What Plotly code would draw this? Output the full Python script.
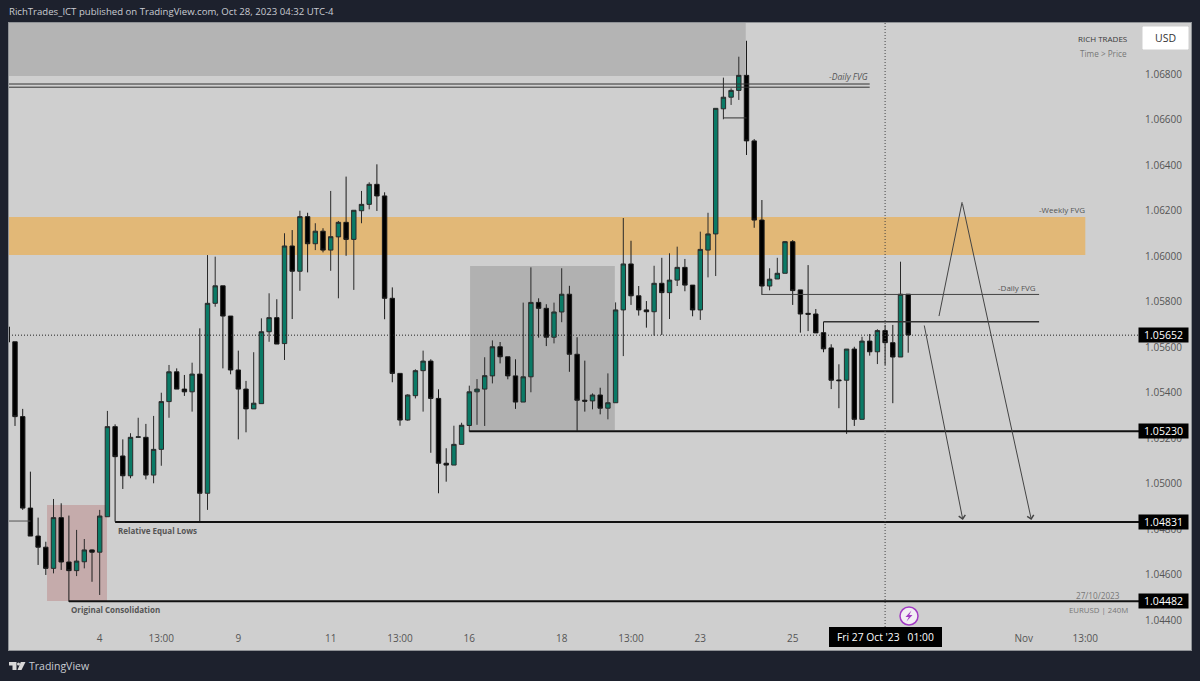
import plotly.graph_objects as go

# EURUSD 240M candles, prices in points (1/100000)
opens = [105688,105623,105294,104892,104769,104720,104627,104850,104655,104617,104656,104708,104698,104854,105250,105121,105034,105203,105203,105037,
105150,105360,105491,105415,105403,105481,104957,105792,105869,105736,105499,105415,105328,105351,105667,105729,105615,106044,105933,106173,
106054,106109,106026,106084,106148,106073,106199,106227,106315,106264,105814,105484,105279,105386,105496,105538,105374,105089,105081,105172,
105255,105403,105415,105473,105601,105557,105473,105358,105469,105796,105770,105643,105754,105832,105568,105366,105363,105389,105331,105355,
105763,105965,105825,105763,105755,105880,105839,105894,105950,105872,105763,106026,106097,106647,106698,106728,106794,106506,106158,105868,
105899,105924,106063,105851,105748,105745,105663,105596,105455,105454,105591,105282,105626,105579,105672,105619,105556,105832]
highs = [105688,105623,105328,105052,104850,104744,104932,104913,104859,104796,104756,104710,104884,105319,105260,105194,105221,105289,105262,105297,
105399,105521,105506,105477,105531,105682,106004,105997,105869,105736,105584,105451,105577,105726,105836,105810,106100,106114,106199,106190,
106144,106122,106286,106154,106349,106201,106286,106324,106403,106280,105862,105484,105392,105502,105584,105546,105414,105155,105254,105267,
105430,105459,105555,105629,105622,105557,105546,105795,105950,105814,105788,105795,105946,105869,105643,105540,105396,105421,105484,105796,
106167,106067,105868,105802,105957,105992,106012,106041,105987,105872,106107,106190,106649,106784,106737,106876,106946,106514,106246,105946,
105992,106066,106070,105851,105960,105767,105711,105612,105524,105591,105601,105645,105657,105678,105697,105697,105975,105832]
lows = [105622,105253,104884,104769,104642,104598,104605,104620,104480,104593,104627,104568,104510,104854,104832,104976,105023,105200,105018,105001,
105078,105289,105415,105385,105316,104832,104884,105777,105506,105480,105194,105225,105328,105351,105623,105613,105543,105723,105847,105928,
106026,106016,105935,105814,106001,105851,106144,106205,106198,105722,105445,105254,105276,105374,105316,105135,104957,105008,105081,105172,
105228,105258,105253,105440,105528,105458,105328,105358,105401,105641,105604,105616,105709,105491,105232,105316,105326,105304,105282,105355,
105560,105785,105738,105685,105650,105653,105723,105868,105845,105735,105719,105906,105912,106601,106664,106686,106444,106124,105829,105849,
105899,105924,105785,105663,105670,105662,105577,105415,105331,105218,105253,105282,105562,105525,105521,105353,105556,105575]
closes = [105622,105294,104892,104769,104720,104627,104850,104655,104617,104659,104708,104698,104857,105250,105118,105034,105203,105205,105037,105150,
105360,105491,105415,105403,105481,104957,105792,105869,105736,105499,105415,105328,105353,105667,105729,105613,106044,105933,106173,106054,
106109,106026,106085,106148,106073,106201,106227,106315,106264,105814,105484,105279,105389,105496,105538,105374,105089,105081,105172,105256,
105403,105415,105474,105601,105557,105473,105358,105469,105796,105770,105643,105754,105832,105568,105366,105362,105389,105331,105355,105763,
105965,105825,105763,105755,105880,105839,105894,105950,105872,105763,106029,106097,106649,106698,106728,106794,106506,106158,105868,105898,
105924,106063,105848,105745,105744,105662,105592,105454,105452,105591,105282,105626,105579,105672,105619,105556,105832,105653]

y_ticks = [1.044,1.046,1.048,1.05,1.052,1.054,1.056,1.058,1.06,1.062,1.064,1.066,1.068]
x_tick_bars = [12,20,30,42,51,60,72,81,90,102,132,140]
x_tick_text = ["4","13:00","9","11","13:00","16","18","13:00","23","25","Nov","13:00"]

# price tags on the scale
tag_prices = [1.05652,1.05230,1.04831,1.04482]

# drawn levels: (first bar, last bar, price, colour, width)
end_bar = 147
levels = [(-1,112,1.06756,"#333333",1),(-1,112,1.06742,"#333333",1),(93,96,1.06607,"#333333",1),
          (98,134,1.05831,"#444444",1),(106,134,1.05711,"#333333",1.6),(-1,3,1.04835,"#555555",1),
          (60,end_bar,1.05230,"#111111",2),(14,end_bar,1.04831,"#111111",2),(8,end_bar,1.04482,"#111111",2)]
# drawn zones: (first bar, last bar, low, high, colour)
zones = [(-1,95.9,1.06791,1.0703,"#b4b4b4"),(-1,140,1.06004,1.06171,"#e2b877"),
         (60.1,78.9,1.05235,1.05956,"#b1b1b1"),(5.16,12.95,1.04483,1.04905,"#c5abab")]
# projection arrows
path_a_bars = [121,124]; path_a_prices = [1.05736,1.06237]
arrow_a = (124,1.06237,133,1.04840)
arrow_b = (119.05,1.05701,124.1,1.04840)

PX_L,PX_R,PX_T,PX_B = 9,1191,23,650
BAR_X0,BAR_DX = 7.3,7.7
def px(x): return (x-PX_L)/(PX_R-PX_L)
def py(y): return (PX_B-y)/(PX_B-PX_T)

BG = "#1d212d"; PANE = "#cfcfcf"; GREEN = "#0a7a66"; FONT = "Open Sans"
n = len(opens)
bars = list(range(n))
fig = go.Figure(go.Candlestick(
    x=bars, open=[v/1e5 for v in opens], high=[v/1e5 for v in highs],
    low=[v/1e5 for v in lows], close=[v/1e5 for v in closes],
    increasing=dict(line=dict(color="#2a2a2a",width=1),fillcolor=GREEN),
    decreasing=dict(line=dict(color="#1a1a1a",width=1),fillcolor="#000000"),
    whiskerwidth=0, showlegend=False, hoverinfo="skip"))
fig.add_trace(go.Scatter(x=path_a_bars,y=path_a_prices,mode="lines",line=dict(color="#444444",width=1),showlegend=False,hoverinfo="skip"))

shapes=[]
for x0,x1,lo,hi,c in zones:
    shapes.append(dict(type="rect",xref="x",yref="y",x0=x0,x1=x1,y0=lo,y1=hi,fillcolor=c,line=dict(width=0),layer="below"))
for x0,x1,p,c,w in levels:
    shapes.append(dict(type="line",xref="x",yref="y",x0=x0,x1=x1,y0=p,y1=p,line=dict(color=c,width=w)))
shapes.append(dict(type="line",xref="paper",yref="y",x0=0,x1=px(1139),y0=tag_prices[0],y1=tag_prices[0],line=dict(color="#222222",width=1,dash="1px,2px")))
shapes.append(dict(type="line",xref="x",yref="paper",x0=114,x1=114,y0=py(627),y1=1,line=dict(color="#444444",width=1,dash="1px,2px")))

def poly(pts):
    return "M"+"L".join(f"{px(a):.5f},{py(b):.5f}" for a,b in pts)+"Z"
# USD button
shapes.append(dict(type="rect",xref="paper",yref="paper",x0=px(1143),x1=px(1188),y0=py(49),y1=py(27),fillcolor="#ffffff",line=dict(color="#ffffff",width=1)))
# date box
shapes.append(dict(type="rect",xref="paper",yref="paper",x0=px(829),x1=px(942),y0=py(647),y1=py(627),fillcolor="#000000",line=dict(width=0)))
# purple badge
shapes.append(dict(type="circle",xref="paper",yref="paper",x0=px(900),x1=px(918),y0=py(625),y1=py(607),fillcolor="#f2eef4",line=dict(color="#a23bc4",width=1.5)))
shapes.append(dict(type="path",xref="paper",yref="paper",path=poly([(911.5,610.5),(905.5,617),(908.8,617),(906.5,621.5),(912.5,615),(909.2,615)]),fillcolor="#a23bc4",line=dict(width=0)))
# TradingView mark
shapes.append(dict(type="path",xref="paper",yref="paper",path=poly([(9,662),(16.5,662),(16.5,670),(12.5,670),(12.5,665.5),(9,665.5)]),fillcolor="#d8d8d8",line=dict(width=0)))
shapes.append(dict(type="circle",xref="paper",yref="paper",x0=px(17),x1=px(20),y0=py(665.5),y1=py(662.5),fillcolor="#d8d8d8",line=dict(width=0)))
shapes.append(dict(type="path",xref="paper",yref="paper",path=poly([(20.8,662),(25.5,662),(21.5,670),(17.5,670)]),fillcolor="#d8d8d8",line=dict(width=0)))

ann=[]
def text(x,y,s,size=9,color="#444444",anchor="left",**kw):
    f=dict(family=kw.pop("family",FONT),size=size,color=color)
    ann.append(dict(xref="paper",yref="paper",x=px(x),y=py(y),text=s,showarrow=False,xanchor=anchor,yanchor="middle",font=f,**kw))
text(7,12,"RichTrades_ICT published on TradingView.com, Oct 28, 2023 04:32 UTC-4",size=9.6,color="#c9ccd2")
text(27,666,"TradingView",size=10.5,color="#c9ccd2")
text(1129,39,"RICH TRADES",size=8,color="#3a3a3a",anchor="right")
text(1129,54,"Time &gt; Price",size=8.2,color="#777777",anchor="right")
text(1165.5,38,"USD",size=10.5,color="#333333",anchor="center")
text(870,77,"<i>-Daily FVG</i>",size=8.6,color="#555555",anchor="right")
text(1087,209,"-Weekly FVG",size=8,color="#555555",anchor="right")
text(1038,287,"-Daily FVG",size=8,color="#555555",anchor="right")
text(116,530,"<b>Relative Equal Lows</b>",size=8,color="#555555")
text(69,609,"<b>Original Consolidation</b>",size=8,color="#555555")
text(1122,595,"27/10/2023",size=8.2,color="#777777",anchor="right")
text(1130,610,"EURUSD | 240M",size=7.8,color="#777777",anchor="right")
text(885.5,637,"Fri 27 Oct '23   01:00",size=10.3,color="#ffffff",anchor="center")
for p in tag_prices:
    ann.append(dict(xref="paper",yref="y",x=px(1163.5),y=p,text=f"{p:.5f}",showarrow=False,xanchor="center",yanchor="middle",
                    width=47,height=12,bgcolor="#000000",font=dict(family=FONT,size=10.5,color="#ffffff")))
for x0,p0,x1,p1 in (arrow_a,arrow_b):
    ann.append(dict(xref="x",yref="y",axref="x",ayref="y",x=x1,y=p1,ax=x0,ay=p0,text="",showarrow=True,
                    arrowhead=4,arrowsize=1.3,arrowwidth=1,arrowcolor="#444444"))

fig.update_layout(width=1200,height=681,autosize=False,margin=dict(l=PX_L,r=1200-PX_R,t=PX_T,b=681-PX_B),boxgap=0.18,
    paper_bgcolor=BG,plot_bgcolor=PANE,shapes=shapes,annotations=ann,font=dict(family=FONT),hovermode=False,
    xaxis=dict(range=[(PX_L-BAR_X0)/BAR_DX,(PX_R-BAR_X0)/BAR_DX],rangeslider=dict(visible=False),showgrid=False,zeroline=False,
        tickmode="array",tickvals=x_tick_bars,ticktext=x_tick_text,ticks="",ticklabelposition="inside",ticklabelstandoff=5,
        tickfont=dict(family=FONT,size=10,color="#555555"),showline=True,mirror=True,linecolor="#8f9296",linewidth=1),
    yaxis=dict(range=[1.068-576/22750,1.068+51/22750],side="right",showgrid=False,zeroline=False,
        tickmode="array",tickvals=y_ticks,ticktext=[f"{v:.5f}" for v in y_ticks],ticks="",ticklabelposition="inside",ticklabelstandoff=8,
        tickfont=dict(family=FONT,size=10,color="#555555"),showline=True,mirror=True,linecolor="#8f9296",linewidth=1))
fig.write_html("out.html",post_script="document.body.style.margin='0';document.body.style.background='#1d212d';document.body.style.overflow='hidden';",config=dict(displayModeBar=False))
